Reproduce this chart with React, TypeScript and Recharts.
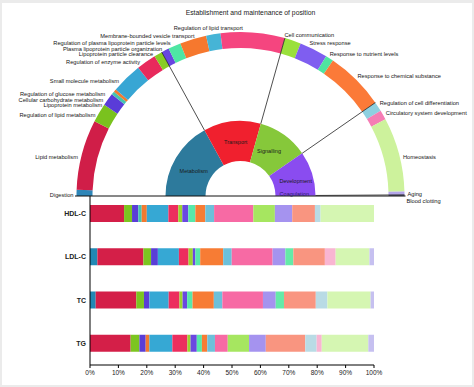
import { PieChart, Pie, Cell, BarChart, Bar, XAxis, YAxis } from 'recharts';

// outer ring categories (left to right), values in degrees of the half circle
const categories = [
  'Digestion', 'Lipid metabolism', 'Regulation of lipid metabolism', 'Lipoprotein metabolism',
  'Cellular carbohydrate metabolism', 'Regulation of glucose metabolism', 'Small molecule metabolism',
  'Regulation of enzyme activity', 'Lipoprotein particle clearance', 'Plasma lipoprotein particle organization',
  'Regulation of plasma lipoprotein particle levels', 'Membrane-bounded vesicle transport',
  'Regulation of lipid transport', 'Lipid transport', 'Cell communication', 'Stress response',
  'Response to nutrient levels', 'Response to chemical substance', 'Regulation of cell differentiation',
  'Circulatory system development', 'Homeostasis', 'Aging', 'Blood clotting',
];
const ringLabels = categories.map((c, i) => (i === 13 ? '' : c));
const ringValues = [2.2, 24.9, 6.7, 4.5, 1.2, 1.0, 10.9, 7.0, 2.9, 2.7, 4.5, 9.4, 5.1, 22.7, 5.8, 10, 2.8, 21, 3.4, 3.4, 26.3, 1.2, 0.4];
const categoryGroup = [0, 0, 0, 0, 0, 0, 0, 0, 0, 1, 1, 1, 1, 1, 2, 2, 2, 2, 3, 3, 3, 3, 4];

const groups = ['Metabolism', 'Transport', 'Signalling', 'Development', 'Coagulation'];
const groupColors = ['#2d7a9c', '#f0202e', '#86c83a', '#8a4cf0', '#8a4cf0'];

const ringColors = [
  '#2e86b8', '#d01e48', '#7ac21e', '#5a3cd8', '#45c4b0', '#f27a30', '#38a6d4', '#e82a5c',
  '#88cc24', '#6846e0', '#4ee6a4', '#f6782e', '#46b4d6', '#f5457f', '#9ae03c', '#7f5ef0',
  '#4fe4a0', '#fb7a38', '#8ed0e0', '#f57db4', '#cdf29c', '#b4a6ea', '#6c6c90',
];
const barColors = [
  '#2288b4', '#d41f48', '#7cc520', '#5a3ed6', '#45c4b0', '#f27a30', '#36a8d4', '#ec2e5e',
  '#9bd42e', '#6a48e0', '#56e8aa', '#f77c34', '#6cc0da', '#f76aa4', '#a6e660', '#a593ef',
  '#64eaa8', '#f99580', '#b9dbe5', '#f9b5d2', '#d5f6b2', '#c6c0f0', '#888888',
];

const lipids = ['HDL-C', 'LDL-C', 'TC', 'TG'];
const hdl = [0, 12.0, 2.8, 2.2, 1.2, 1.8, 7.6, 3.5, 1.4, 2.1, 2.5, 3.5, 3.1, 13.8, 7.6, 6.1, 0, 8.0, 2.0, 0, 18.8, 0, 0];
const ldl = [2.6, 16.2, 2.7, 2.4, 0, 0, 7.4, 3.4, 1.5, 0.9, 1.7, 8.1, 3.0, 14.4, 0, 4.5, 2.8, 11.1, 0, 3.8, 11.9, 1.6, 0];
const tc = [2.0, 14.3, 2.7, 1.9, 0, 0, 6.8, 3.8, 1.1, 1.6, 1.9, 7.5, 3.0, 14.3, 0, 4.5, 2.9, 11.2, 4.1, 0, 15.2, 1.2, 0];
const tg = [0, 14.3, 3.1, 2.2, 0, 1.3, 8.1, 5.3, 1.1, 2.2, 1.8, 1.9, 2.7, 4.5, 7.5, 5.9, 0, 13.9, 4.0, 1.8, 16.4, 2.0, 0];
const pctTicks = [0, 10, 20, 30, 40, 50, 60, 70, 80, 90, 100];

// label nudges (layout only)
const ringNudge = [
  [-1, 2], [-2, 3], [-2, 3], [-4, 7], [-8, 8], [-8, 5], [-6, 4], [-5, 2], [-4, 2], [-2, 0],
  [-3, -1], [2, -1.5], [30, -4], [0, 0], [-9, -4], [-5, -4], [-1, -3], [0, -2], [0, -3],
  [1, -1], [2, 3], [1, 1], [0, 6],
];
const groupNudge = [[0.5, 3], [1.4, 0.3], [-3.4, -0.5], [2.8, 1.6], [-1.2, -1.5]];

const RAD = Math.PI / 180;
const FONT = 'Arial, "Liberation Sans", sans-serif';

const ringData = categories.map((name, i) => ({ name, value: ringValues[i] }));
const groupData = groups.map((name, g) => ({
  name,
  value: ringValues.reduce((s, v, i) => (categoryGroup[i] === g ? s + v : s), 0),
}));
const rows = [hdl, ldl, tc, tg];
const barData = lipids.map((name, r) => {
  const row: Record<string, number | string> = { name };
  categories.forEach((_, i) => (row['c' + i] = rows[r][i]));
  return row;
});

const renderRingLabel = (p: any) => {
  const i = p.index;
  if (!ringLabels[i]) return null;
  const a = -p.midAngle * RAD;
  const r = p.outerRadius + 2;
  const x = p.cx + r * Math.cos(a) + ringNudge[i][0];
  const y = p.cy + r * Math.sin(a) + ringNudge[i][1];
  return (
    <text x={x} y={y} textAnchor={p.midAngle > 90 ? 'end' : 'start'} dominantBaseline="central"
      fontSize={5.7} fill="#151515" fontFamily={FONT}>
      {ringLabels[i]}
    </text>
  );
};

const renderGroupLabel = (p: any) => {
  const i = p.index;
  const a = -p.midAngle * RAD;
  const x = p.cx + 55 * Math.cos(a) + groupNudge[i][0];
  const y = p.cy + 55 * Math.sin(a) + groupNudge[i][1];
  const s = -p.startAngle * RAD;
  return (
    <g>
      {i === 0 ? (
        <line x1={p.cx - 165.5} y1={p.cy} x2={p.cx + 165} y2={p.cy} stroke="#111" strokeWidth={1} />
      ) : (
        <line x1={p.cx + 75 * Math.cos(s)} y1={p.cy + 75 * Math.sin(s)}
          x2={p.cx + 164 * Math.cos(s)} y2={p.cy + 164 * Math.sin(s)} stroke="#222" strokeWidth={0.8} />
      )}
      <text x={x} y={y} textAnchor="middle" dominantBaseline="central" fontSize={5.5}
        fill={i === 4 ? '#2a1a6a' : '#1a1a1a'} fontFamily={FONT}>
        {groups[i]}
      </text>
    </g>
  );
};

export default function App() {
  return (
    <div style={{ position: 'absolute', left: 0, top: 0, width: 474, height: 387, background: '#fff', fontFamily: FONT }}>
      <div style={{ position: 'absolute', left: 0, top: 190 }}>
        <BarChart width={474} height={195} data={barData} layout="vertical"
          margin={{ top: 2, right: 100, bottom: 0, left: 0 }} barSize={17}>
          <XAxis type="number" domain={[0, 100]} ticks={pctTicks} tickFormatter={(v) => v + '%'}
            tick={{ fontSize: 6.5, fill: '#222' }} tickSize={3} axisLine={{ stroke: '#000' }}
            tickLine={{ stroke: '#000' }} height={20} interval={0} />
          <YAxis type="category" dataKey="name" width={90} tickSize={2} tickLine={false}
            axisLine={{ stroke: '#000' }} tick={{ fontSize: 7, fontWeight: 'bold', fill: '#222' }} />
          {categories.map((c, i) => (
            <Bar key={c} dataKey={'c' + i} name={c} stackId="a" fill={barColors[i]} isAnimationActive={false} />
          ))}
        </BarChart>
      </div>
      <div style={{ position: 'absolute', left: 0, top: 0, pointerEvents: 'none' }}>
        <PieChart width={474} height={205} style={{ overflow: 'visible' }}>
          <Pie data={ringData} dataKey="value" cx={235.5} cy={191} startAngle={180} endAngle={0}
            innerRadius={148} outerRadius={164} stroke="none" label={renderRingLabel} labelLine={false}
            isAnimationActive={false}>
            {ringData.map((_, i) => <Cell key={i} fill={ringColors[i]} />)}
          </Pie>
          <Pie data={groupData} dataKey="value" cx={235.5} cy={191} startAngle={180} endAngle={0}
            innerRadius={35} outerRadius={75} stroke="none" label={renderGroupLabel} labelLine={false}
            isAnimationActive={false}>
            {groupData.map((_, i) => <Cell key={i} fill={groupColors[i]} />)}
          </Pie>
        </PieChart>
      </div>
      <div style={{ position: 'absolute', left: 150, top: 9, width: 201, textAlign: 'center', fontSize: 6.8, lineHeight: '7px', color: '#222' }}>
        Establishment and maintenance of position
      </div>
      <div style={{ position: 'absolute', left: 0, top: 0, width: 474, height: 387, boxSizing: 'border-box',
        borderStyle: 'solid', borderColor: '#ebebeb', borderWidth: '3px 2px 2px 2px', pointerEvents: 'none' }} />
    </div>
  );
}
